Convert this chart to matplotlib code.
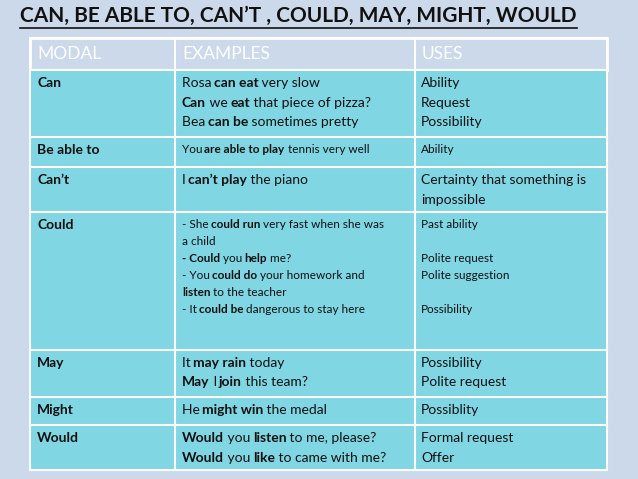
import matplotlib
matplotlib.use("Agg")
import matplotlib.pyplot as plt
from matplotlib.patches import Rectangle

title = "CAN, BE ABLE TO, CAN’T , COULD, MAY, MIGHT, WOULD"
headers = ["MODAL", "EXAMPLES", "USES"]
modals = ["Can", "Be able to", "Can’t", "Could", "May", "Might", "Would"]
examples = [
    ["Rosa **can eat** very slow", "**Can** we **eat** that piece of pizza?", "Bea **can be** sometimes pretty"],
    ["You **are able to play** tennis very well"],
    ["I **can’t play** the piano"],
    ["- She **could run** very fast when she was", "a child", "**- Could** you **help** me?",
     "- You **could do** your homework and", "**listen** to the teacher", "- It **could be** dangerous to stay here"],
    ["It **may rain** today", "**May** I **join** this team?"],
    ["He **might win** the medal"],
    ["**Would** you **listen** to me, please?", "**Would** you **like** to came with me?"],
]
uses = [
    ["Ability", "Request", "Possibility"],
    ["Ability"],
    ["Certainty that something is", "impossible"],
    ["Past ability", "", "Polite request", "Polite suggestion", "", "Possibility"],
    ["Possibility", "Polite request"],
    ["Possiblity"],
    ["Formal request", "Offer"],
]
small_rows = {1, 3}

W, H = 638, 479
fig = plt.figure(figsize=(W/100, H/100), dpi=100)
fig.patch.set_facecolor("#cbd9ea")
ax = fig.add_axes([0, 0, 1, 1])
ax.set_xlim(0, W); ax.set_ylim(H, 0); ax.axis("off")
FONT = ["Lato", "DejaVu Sans"]

cols = [30, 175, 415, 607]
rows = [38, 70, 137, 167, 212, 350, 397, 425, 470]
ax.add_patch(Rectangle((cols[0], rows[0]), cols[-1]-cols[0], rows[1]-rows[0], fc="#cbd9ea", ec="white", lw=2))
for i in range(len(modals)):
    ax.add_patch(Rectangle((cols[0], rows[i+1]), cols[-1]-cols[0], rows[i+2]-rows[i+1], fc="#80d6e3", ec="none"))
for x in cols:
    ax.plot([x, x], [rows[0], rows[-1]], color="white", lw=1.5)
for y in rows:
    ax.plot([cols[0], cols[-1]], [y, y], color="white", lw=1.5)

fig.canvas.draw()
r = fig.canvas.get_renderer()

def rich(x, y, s, size, color="#111111"):
    parts = s.split("**")
    cx = x
    for k, p in enumerate(parts):
        if not p:
            continue
        t = ax.text(cx, y, p, fontsize=size, family=FONT, color=color, va="top", ha="left",
                    fontweight="bold" if k % 2 else "normal")
        bb = t.get_window_extent(renderer=r)
        w = bb.width
        if p.endswith(" "):
            w -= size * 0.12
        cx += w

t = ax.text(20, 6, title, fontsize=15, family=FONT, fontweight="bold", color="#111111", va="top")
bb = t.get_window_extent(renderer=r)
ax.plot([20, 20 + bb.width], [28, 28], color="#111111", lw=1.2)

for j, h in enumerate(headers):
    ax.text(cols[j] + 7, 54, h, fontsize=12.5, family=FONT, color="white", va="center")

for i in range(len(modals)):
    top = rows[i+1] + 7
    ax.text(cols[0] + 7, top, modals[i], fontsize=10, family=FONT, fontweight="bold", color="#111111", va="top")
    sz = 8.5 if i in small_rows else 10
    lh = 17 if i in small_rows else 19.5
    for k, line in enumerate(examples[i]):
        rich(cols[1] + 7, top + k*lh, line, sz)
    for k, line in enumerate(uses[i]):
        rich(cols[2] + 6, top + k*lh, line, sz)

fig.savefig("out.png", dpi=100, facecolor=fig.get_facecolor())
